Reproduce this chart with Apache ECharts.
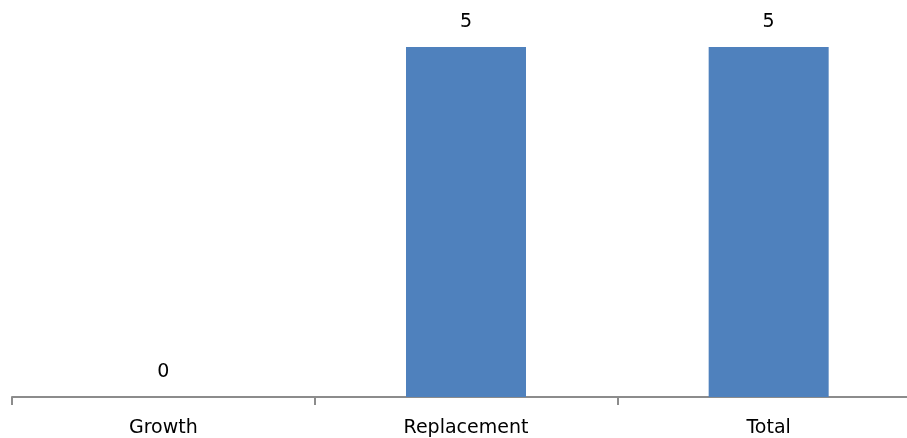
<!DOCTYPE html>
<html><head><meta charset="utf-8">
<script src="https://cdn.jsdelivr.net/npm/echarts@6/dist/echarts.min.js"></script>
<style>html,body{margin:0;padding:0;background:#fff}#c{width:907px;height:438px}</style>
</head><body><div id="c"></div>
<script>
const categories = ["Growth", "Replacement", "Total"];
const values = [0, 5, 5];
const chart = echarts.init(document.getElementById('c'));
chart.setOption({
  animation: false,
  grid: { left: 12, right: -13, top: 47, bottom: 41, outerBoundsMode: 'none', containLabel: false },
  xAxis: {
    type: 'category', data: categories,
    axisLine: { lineStyle: { color: '#8c8c8c', width: 2 } },
    axisTick: { show: true, length: 8, lineStyle: { color: '#8c8c8c', width: 2 } },
    axisLabel: { color: '#000', fontSize: 19, fontFamily: '"DejaVu Sans", sans-serif', margin: 22 }
  },
  yAxis: { type: 'value', min: 0, max: 5, show: false, splitLine: { show: false } },
  series: [{
    type: 'bar', data: values, barWidth: 120,
    itemStyle: { color: '#4F81BD' },
    label: { show: true, position: 'top', distance: 15, color: '#000', fontSize: 19, fontFamily: '"DejaVu Sans", sans-serif' }
  }]
});
</script></body></html>
